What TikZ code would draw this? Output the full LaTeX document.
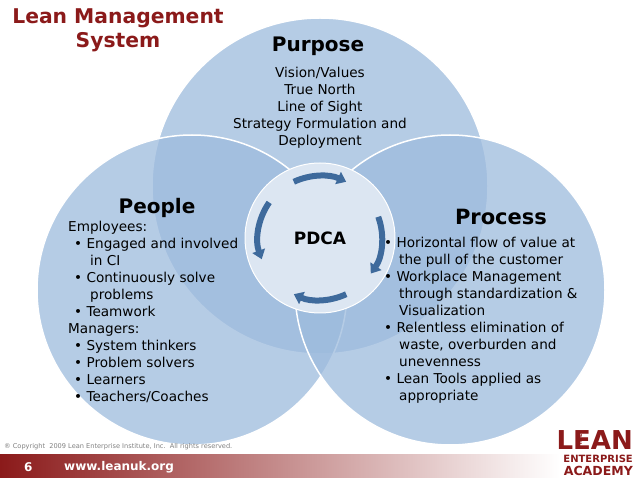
\documentclass[tikz,border=0pt]{standalone}
\usepackage{fontspec}
\setmainfont{DejaVu Sans}
\usetikzlibrary{arrows.meta}
\definecolor{cb}{HTML}{9DBBDD}
\definecolor{cdark}{HTML}{3E6A9C}
\definecolor{ltc}{HTML}{DCE6F2}
\definecolor{dred}{HTML}{8B1A1A}
\begin{document}
\begin{tikzpicture}[x=1pt,y=-1pt,
  circ/.style={fill=cb,fill opacity=0.75,draw=white,line width=1.5pt},
  body/.style={font=\fontsize{13.6}{17}\selectfont,align=left,anchor=north west,inner sep=0},
  head/.style={font=\bfseries\fontsize{20}{22}\selectfont,inner sep=0},
  arr/.style={cdark,line width=6pt,-{Triangle[length=9pt,width=13pt]}}]
\useasboundingbox (0,0) rectangle (638,478);
\fill[white] (0,0) rectangle (638,478);
\node[circ,circle,minimum size=336pt] (top) at (320,186) {};
\node[circ,circle,minimum size=310pt] (left) at (192,290) {};
\node[circ,circle,minimum size=310pt] (right) at (450,290) {};
\node[circle,fill=ltc,draw=white,line width=1pt,minimum size=150pt] (pd) at (320,238) {};
\node[font=\bfseries\fontsize{17}{19}\selectfont] (pdca) at (pd) {PDCA};
\draw[arr] (pd.center) ++(65:62) arc (65:115:62);
\draw[arr] (pd.center) ++(-20:62) arc (-20:35:62);
\draw[arr] (pd.center) ++(-115:62) arc (-115:-65:62);
\draw[arr] (pd.center) ++(-145:62) arc (-145:-200:62);
\node[font=\bfseries\fontsize{20.3}{24}\selectfont,text=dred,align=center,inner sep=0] (title) at (118,30) {Lean Management\\System};
\node[head] (purpose) at (318,46) {Purpose};
\node[font=\fontsize{13.6}{17}\selectfont,align=center,inner sep=0,anchor=north] (pt) at (320,67) {Vision/Values\\True North\\Line of Sight\\Strategy Formulation and\\Deployment};
\node[head] (people) at (157,208) {People};
\node[head,font=\bfseries\fontsize{21}{23}\selectfont] (process) at (501,217) {Process};
\node[body] (pl) at (68,221) {Employees:\\
\hspace*{6pt}• Engaged and involved\\\hspace*{22pt}in CI\\\hspace*{6pt}• Continuously solve\\\hspace*{22pt}problems\\\hspace*{6pt}• Teamwork\\Managers:\\\hspace*{6pt}• System thinkers\\\hspace*{6pt}• Problem solvers\\\hspace*{6pt}• Learners\\\hspace*{6pt}• Teachers/Coaches};
\node[body] (pr) at (384,237) {• Horizontal flow of value at\\\hspace*{15pt}the pull of the customer\\• Workplace Management\\\hspace*{15pt}through standardization \&\\\hspace*{15pt}Visualization\\• Relentless elimination of\\\hspace*{15pt}waste, overburden and\\\hspace*{15pt}unevenness\\• Lean Tools applied as\\\hspace*{15pt}appropriate};
\shade[left color=dred,right color=white] (0,455) rectangle (560,478);
\node[font=\fontsize{6.6}{8}\selectfont,text=gray,anchor=west,inner sep=0] (copy) at (4,447) {® Copyright\ \ 2009 Lean Enterprise Institute, Inc.\ \ All rights reserved.};
\node[font=\bfseries\fontsize{12}{14}\selectfont,text=white,anchor=west,inner sep=0] (num) at (24,467) {6};
\node[font=\bfseries\fontsize{12}{14}\selectfont,text=white,anchor=west,inner sep=0] (url) at (64,467) {www.leanuk.org};
\node[font=\bfseries\fontsize{26}{26}\selectfont,text=dred,anchor=east,inner sep=0] (lean) at (633,440) {LEAN};
\node[font=\bfseries\fontsize{5}{5}\selectfont,text=dred,rotate=90,inner sep=0] (the) at (580,440) {THE};
\node[font=\bfseries\fontsize{10}{10}\selectfont,text=dred,anchor=east,inner sep=0] (ent) at (633,459) {ENTERPRISE};
\node[font=\bfseries\fontsize{12.5}{12}\selectfont,text=dred,anchor=east,inner sep=0] (acad) at (633,471) {ACADEMY};
\end{tikzpicture}
\end{document}
